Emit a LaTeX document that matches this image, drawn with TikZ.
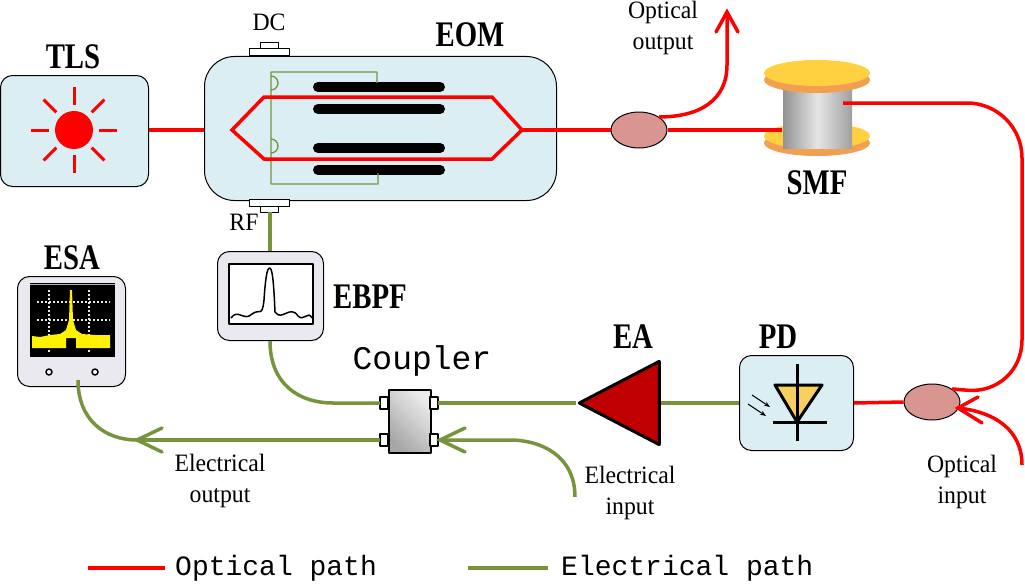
\documentclass[tikz,border=0pt]{standalone}
\usepackage{fontspec}
\setmainfont{Liberation Serif}
\newfontfamily\monof{Liberation Mono}
\usetikzlibrary{arrows.meta,shapes.geometric}
\definecolor{grn}{HTML}{77933C}
\definecolor{boxb}{HTML}{DAEEF3}
\definecolor{boxg}{HTML}{EBE9F0}
\definecolor{pink}{HTML}{D9958F}
\definecolor{gold}{HTML}{FFD040}
\definecolor{orng}{HTML}{F0A050}
\definecolor{darkred}{HTML}{C00000}
\definecolor{diod}{HTML}{F8D060}
\tikzset{
 opt/.style={red,line width=3.5pt},
 ele/.style={grn,line width=3.5pt},
 bigl/.style={font=\bfseries\fontsize{36}{36}\selectfont,xscale=0.8,inner sep=0},
 smal/.style={font=\fontsize{25}{31}\selectfont,align=center,inner sep=0,xscale=0.95},
 monol/.style={font=\monof\fontsize{33}{33}\selectfont,inner sep=0},
 legl/.style={font=\monof\fontsize{28}{28}\selectfont,anchor=west,inner sep=0},
 dev/.style={draw=black,line width=1pt,rounded corners=12pt},
 oval/.style={ellipse,draw=black,line width=1pt,fill=pink,minimum width=56pt,minimum height=36pt,inner sep=0},
 elec/.style={line width=10pt,line cap=round,black},
}
\begin{document}
\begin{tikzpicture}[x=1pt,y=-1pt,line join=round]
\useasboundingbox (0,0) rectangle (1025,586);
% TLS
\node[dev,fill=boxb,minimum width=148pt,minimum height=111pt,anchor=north west] (tls) at (0,75) {};
\node[bigl] (tlsl) at (73,57) {TLS};
\fill[red] (74,130) circle (19);
\foreach \a in {0,45,...,315} \draw[red,line width=3pt] (74,130)++(\a:25) -- ++(\a:18);
% EOM
\node[draw=black,line width=1pt,rounded corners=30pt,fill=boxb,minimum width=352pt,minimum height=144pt,anchor=north west] (eom) at (204,56) {};
\node[bigl] (eoml) at (470,35) {EOM};
\draw[line width=1pt,fill=white] (249,49) rectangle (289,56);
\draw[line width=1pt,fill=white] (260,43) rectangle (278,49);
\node[smal] (dc) at (269,22) {DC};
\draw[line width=1pt,fill=white] (249,199) rectangle (289,206);
\draw[line width=1pt,fill=white] (260,206) rectangle (278,212);
\node[smal] (rf) at (244,222) {RF};
\foreach \y in {87,109,148,170} \draw[elec] (318,\y) -- (440,\y);
\draw[grn,line width=1.3pt] (377,83) -- (377,72) -- (271,72) -- (271,90) arc (90:-90:7) -- (271,153) arc (90:-90:7) -- (271,184) -- (378,184) -- (378,173);
\draw[opt] (tls.east|-0,130) -- (eom.west|-0,130);
\draw[opt,line join=miter] (232,130) -- (264,97) -- (492,97) -- (522,130) -- (492,159) -- (264,159) -- cycle;
\coordinate (mzout) at (522,130);
% couplers
\node[oval] (oc1) at (639,130) {};
\node[oval] (oc2) at (932,402) {};
\draw[opt] (mzout) -- (oc1.west);
% SMF spool
\fill[orng] (817,143) ellipse (53 and 13);
\fill[gold] (817,136) ellipse (53 and 13);
\shade[left color=gray!85,right color=gray!75,middle color=gray!20] (783,82) rectangle (852,148);
\fill[orng] (817,80) ellipse (53 and 13);
\fill[gold] (817,73) ellipse (53 and 13);
\coordinate (smfin) at (782,130);
\coordinate (smfout) at (843,103);
\node[bigl] (smfl) at (817,183) {SMF};
\draw[opt] (oc1.east) -- (smfin);
\coordinate (ootip) at (727,12);
\draw[opt] (oc1.north east) .. controls (700,117) and (727,100) .. (727,65) -- (ootip);
\draw[opt,line cap=round,line join=miter] (716,32) -- (ootip) -- (738,32);
\node[smal] (ool) at (663,28) {Optical\\output};
\draw[opt,rounded corners=55pt] (smfout) -- (1022,103) -- (1022,395) -- (oc2.north east);
\coordinate (oitip) at (958,408);
\draw[opt] (1022,465) .. controls (1022,430) and (995,412) .. (oitip);
\draw[opt,line cap=round,line join=miter] (978,397) -- (oitip) -- (982,423);
\node[smal] (oil) at (962,482) {Optical\\input};
% PD
\node[dev,fill=boxb,minimum width=114pt,minimum height=95pt,anchor=north west] (pd) at (739,355) {};
\node[bigl] (pdl) at (778,337) {PD};
\draw[opt] (pd.east) -- (oc2.west);
\draw[line width=3pt,fill=diod] (775,385) -- (822,385) -- (797,422) -- cycle;
\draw[line width=3pt] (797,364) -- (797,441);
\draw[line width=3pt] (773,422) -- (827,422);
\draw[line width=1pt,-{Stealth[length=6pt]}] (752,395) -- (770,407);
\draw[line width=1pt,-{Stealth[length=6pt]}] (748,404) -- (766,416);
% EA
\node[draw=black,line width=3pt,fill=darkred,isosceles triangle,isosceles triangle apex angle=55,shape border rotate=180,minimum height=80pt,inner sep=0,anchor=apex] (ea) at (576,403) {};
\node[bigl] (eal) at (633,337) {EA};
\draw[ele] (pd.west) -- (ea.east|-0,403);
% EBPF
\node[dev,fill=boxg,minimum width=106pt,minimum height=89pt,anchor=north west] (ebpf) at (217,251) {};
\draw[line width=2.5pt,fill=white] (229,264) rectangle (313,324);
\draw[line width=1.5pt] (231,318) .. controls (238,308) and (244,322) .. (252,314) .. controls (260,308) and (262,318) .. (264,300) .. controls (266,270) and (268,268) .. (270,268) .. controls (273,270) and (274,290) .. (275,312) .. controls (282,322) and (290,304) .. (298,316) .. controls (304,322) and (308,310) .. (312,318);
\node[bigl,anchor=west] (ebpfl) at (333,297) {EBPF};
\draw[ele] (270,212) -- (ebpf.north-|270,0);
% Coupler
\node[draw=black,line width=2pt,left color=gray!15,right color=gray!70,shading angle=-45,minimum width=42pt,minimum height=63pt,anchor=north west,inner sep=0] (cpl) at (388,389) {};
\foreach \x/\y in {380/403,380/440,430/403,430/440} \draw[line width=1.5pt,fill=white] (\x,\y-6) rectangle (\x+8,\y+6);
\node[monol] (cpll) at (422,361) {Coupler};
\coordinate (cin1) at (380,403); \coordinate (cin2) at (380,440);
\coordinate (cout1) at (438,403); \coordinate (cout2) at (440,440);
\draw[ele] (ebpf.south-|270,0) .. controls (270,385) and (300,403) .. (333,403) -- (cin1);
\draw[ele] (cout1) -- (ea.apex);
\draw[ele] (575,497) .. controls (575,455) and (540,440) .. (510,440) -- (cout2);
\draw[ele,line cap=round,line join=miter] (465,428) -- (cout2) -- (465,452);
\node[smal] (eil) at (630,493) {Electrical\\input};
% ESA
\node[dev,fill=boxg,minimum width=108pt,minimum height=110pt,anchor=north west] (esa) at (17,276) {};
\node[bigl] (esal) at (72,258) {ESA};
\fill[black] (30,283) rectangle (115,357);
\draw[gray!60,line width=1pt] (30,284) -- (115,284);
\foreach \y in {302,320} \draw[white!80!gray,dash pattern=on 2pt off 2pt,line width=1.2pt] (37,\y) -- (110,\y);
\foreach \x in {49,89} \draw[white!80!gray,dash pattern=on 2pt off 2pt,line width=1.2pt] (\x,290) -- (\x,353);
\fill[yellow] (32,337) -- (32,336) -- (40,337) -- (50,335) -- (60,334) -- (66,330) -- (69,320) -- (70,290) -- (72,290) -- (73,320) -- (76,330) -- (82,334) -- (95,335) -- (110,335) -- (110,348) -- (76,348) -- (76,338) -- (66,338) -- (66,348) -- (32,348) -- cycle;
\draw[line width=1.5pt,fill=white] (49,372) circle (3);
\draw[line width=1.5pt,fill=white] (95,372) circle (3);
\coordinate (esain) at (78,380);
\coordinate (eotip) at (137,440);
\draw[ele] (esain) .. controls (78,420) and (105,440) .. (eotip);
\draw[ele] (cin2) -- (eotip);
\draw[ele,line cap=round,line join=miter] (162,428) -- (eotip) -- (162,452);
\node[smal] (eol) at (220,481) {Electrical\\output};
% Legend
\coordinate (l1a) at (88,568); \coordinate (l1b) at (165,568);
\coordinate (l2a) at (468,568); \coordinate (l2b) at (548,568);
\draw[opt] (l1a) -- (l1b);
\node[legl] (lt1) at (175,568) {Optical path};
\draw[ele] (l2a) -- (l2b);
\node[legl] (lt2) at (561,568) {Electrical path};
\end{tikzpicture}
\end{document}
